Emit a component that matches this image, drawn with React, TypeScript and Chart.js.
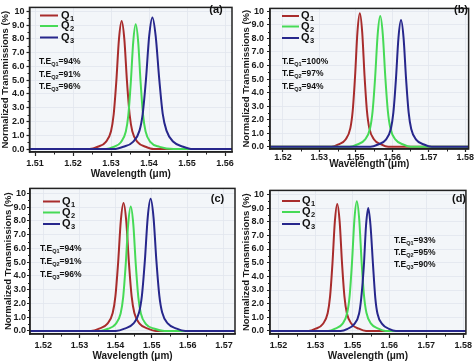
import React, { useEffect, useRef } from "react";
import { Chart, registerables } from "chart.js";
Chart.register(...registerables);

const FONT = "'Liberation Sans', Arial, sans-serif";

const seriesBase = "Q";
const seriesSubs = ["1", "2", "3"];
const seriesColors = ["#a82c2c", "#46da56", "#27278c"];
const xTitle = "Wavelength (μm)";
const yTitle = "Normalized Transmissions (%)";

const yTickValues = [0, 1, 2, 3, 4, 5, 6, 7, 8, 9, 10];
const yTickLabels = ["0.0", "1.0", "2.0", "3.0", "4.0", "5.0", "6.0", "7.0", "8.0", "9.0", "10"];

const xTicksA = [1.51, 1.52, 1.53, 1.54, 1.55, 1.56];
const xLabelsA = ["1.51", "1.52", "1.53", "1.54", "1.55", "1.56"];
const xTicksB = [1.52, 1.53, 1.54, 1.55, 1.56, 1.57];
const xLabelsB = ["1.52", "1.53", "1.55", "1.56", "1.57", "1.58"];
const xTicksC = [1.52, 1.53, 1.54, 1.55, 1.56, 1.57];
const xLabelsC = ["1.52", "1.53", "1.54", "1.55", "1.56", "1.57"];
const xTicksD = [1.52, 1.53, 1.54, 1.55, 1.56, 1.57];
const xLabelsD = ["1.52", "1.53", "1.55", "1.56", "1.57", "1.58"];

// Panel (a)
const aQ1x = [1.5, 1.5244, 1.5265, 1.5286, 1.53, 1.5307, 1.5314, 1.5321, 1.5328, 1.5335, 1.5342, 1.5349, 1.5356, 1.537, 1.5391, 1.5412, 1.6];
const aQ1y = [0, 0, 0.17, 0.51, 1.3, 2.51, 4.93, 8.0, 9.3, 8.0, 4.93, 2.51, 1.3, 0.51, 0.17, 0, 0];
const aQ2x = [1.5, 1.5287, 1.53065, 1.5326, 1.5339, 1.53455, 1.5352, 1.53585, 1.5365, 1.53715, 1.5378, 1.53845, 1.5391, 1.5404, 1.5428, 1.5465, 1.6];
const aQ2y = [0, 0, 0.16, 0.5, 1.27, 2.44, 4.8, 7.78, 9.05, 7.78, 4.8, 2.44, 1.27, 0.5, 0.16, 0, 0];
const aQ3x = [1.5, 1.5307, 1.53325, 1.5358, 1.5375, 1.53835, 1.5392, 1.54005, 1.5409, 1.54175, 1.5427, 1.5436, 1.5446, 1.5464, 1.549, 1.5515, 1.6];
const aQ3y = [0, 0, 0.17, 0.53, 1.34, 2.58, 5.06, 8.21, 9.55, 8.21, 5.06, 2.58, 1.34, 0.53, 0.17, 0, 0];

// Panel (b) (axis positions; labels as printed)
const bQ1x = [1.5, 1.5333, 1.53525, 1.5372, 1.5385, 1.53915, 1.5398, 1.54045, 1.5411, 1.54175, 1.5424, 1.54305, 1.5437, 1.545, 1.54695, 1.5489, 1.6];
const bQ1y = [0, 0, 0.18, 0.54, 1.38, 2.66, 5.22, 8.47, 9.85, 8.47, 5.22, 2.66, 1.38, 0.54, 0.18, 0, 0];
const bQ2x = [1.5, 1.5383, 1.5404, 1.5425, 1.5439, 1.5446, 1.5453, 1.546, 1.5467, 1.5474, 1.5481, 1.5488, 1.5495, 1.5509, 1.553, 1.5551, 1.6];
const bQ2y = [0, 0, 0.17, 0.53, 1.35, 2.61, 5.11, 8.3, 9.65, 8.3, 5.11, 2.61, 1.35, 0.53, 0.17, 0, 0];
const bQ3x = [1.5, 1.544, 1.5461, 1.5482, 1.5496, 1.5503, 1.551, 1.5517, 1.5524, 1.5531, 1.5538, 1.5545, 1.5552, 1.5566, 1.5587, 1.5608, 1.6];
const bQ3y = [0, 0, 0.17, 0.51, 1.31, 2.52, 4.96, 8.04, 9.35, 8.04, 4.96, 2.52, 1.31, 0.51, 0.17, 0, 0];

// Panel (c)
const cQ1x = [1.5, 1.5332, 1.53545, 1.5377, 1.5392, 1.53995, 1.5407, 1.54145, 1.5422, 1.54295, 1.5437, 1.54445, 1.5452, 1.5467, 1.54895, 1.5512, 1.6];
const cQ1y = [0, 0, 0.17, 0.51, 1.3, 2.51, 4.93, 8.0, 9.3, 8.0, 4.93, 2.51, 1.3, 0.51, 0.17, 0, 0];
const cQ2x = [1.5, 1.5358, 1.5379, 1.54, 1.5414, 1.5421, 1.5428, 1.5435, 1.5442, 1.5449, 1.5456, 1.5463, 1.547, 1.5484, 1.5508, 1.5535, 1.6];
const cQ2y = [0, 0, 0.16, 0.5, 1.27, 2.44, 4.8, 7.78, 9.05, 7.78, 4.8, 2.44, 1.27, 0.5, 0.16, 0, 0];
const cQ3x = [1.5, 1.5401, 1.5425, 1.5449, 1.5465, 1.5473, 1.5481, 1.5489, 1.5497, 1.5505, 1.5513, 1.5521, 1.5529, 1.5545, 1.5569, 1.5593, 1.6];
const cQ3y = [0, 0, 0.17, 0.53, 1.34, 2.59, 5.09, 8.26, 9.6, 8.26, 5.09, 2.59, 1.34, 0.53, 0.17, 0, 0];

// Panel (d) (axis positions; labels as printed)
const dQ1x = [1.5, 1.5281, 1.53005, 1.532, 1.5333, 1.53395, 1.5346, 1.53525, 1.5359, 1.53655, 1.5372, 1.53785, 1.5385, 1.5398, 1.54175, 1.5437, 1.6];
const dQ1y = [0, 0, 0.17, 0.51, 1.3, 2.51, 4.93, 8.0, 9.3, 8.0, 4.93, 2.51, 1.3, 0.51, 0.17, 0, 0];
const dQ2x = [1.5, 1.5334, 1.53535, 1.5373, 1.5386, 1.53925, 1.5399, 1.54055, 1.5412, 1.54185, 1.5425, 1.54315, 1.5438, 1.5451, 1.54705, 1.549, 1.6];
const dQ2y = [0, 0, 0.17, 0.52, 1.33, 2.57, 5.04, 8.17, 9.5, 8.17, 5.04, 2.57, 1.33, 0.52, 0.17, 0, 0];
const dQ3x = [1.5, 1.5368, 1.5387, 1.5405, 1.5418, 1.5424, 1.5431, 1.5437, 1.5443, 1.5449, 1.5456, 1.5462, 1.5468, 1.5481, 1.5499, 1.5518, 1.6];
const dQ3y = [0, 0, 0.16, 0.5, 1.26, 2.43, 4.77, 7.74, 9.0, 7.74, 4.77, 2.43, 1.26, 0.5, 0.16, 0, 0];

const teA = ["94%", "91%", "96%"];
const teB = ["100%", "97%", "94%"];
const teC = ["94%", "91%", "96%"];
const teD = ["93%", "95%", "90%"];

const panelTags = ["(a)", "(b)", "(c)", "(d)"];

type Series = { x: number[]; y: number[] };
type PanelCfg = {
  left: number; top: number;
  xMin: number; xMax: number; yMin: number; yMax: number;
  xTicks: number[]; xLabels: string[];
  series: Series[]; te: string[]; tag: string;
  padTop: number; padRight: number; padBottom: number;
  yW: number; xH: number;
  yTitlePad: number; xTitlePad: number;
  xTickLen: number; xTickPad: number; yTickLen: number; yTickPad: number;
  lx1: number; lx2: number; ltx: number; lys: number[];
  teX: number; teYs: number[];
  tagX: number; tagY: number;
};

const panels: PanelCfg[] = [
  {
    left: 0, top: 0, xMin: 1.50855, xMax: 1.56184, yMin: -0.21, yMax: 10.28,
    xTicks: xTicksA, xLabels: xLabelsA,
    series: [{ x: aQ1x, y: aQ1y }, { x: aQ2x, y: aQ2y }, { x: aQ3x, y: aQ3y }],
    te: teA, tag: panelTags[0],
    padTop: 1, padRight: 5, padBottom: 0, yW: 29.5, xH: 30,
    yTitlePad: 0, xTitlePad: 2, xTickLen: 4, xTickPad: 2, yTickLen: 3, yTickPad: 2,
    lx1: 40, lx2: 58, ltx: 61, lys: [15.5, 26, 37.5],
    teX: 39, teYs: [62, 74.5, 87], tagX: 216, tagY: 10,
  },
  {
    left: 237, top: 0, xMin: 1.51646, xMax: 1.57095, yMin: -0.16, yMax: 10.21,
    xTicks: xTicksB, xLabels: xLabelsB,
    series: [{ x: bQ1x, y: bQ1y }, { x: bQ2x, y: bQ2y }, { x: bQ3x, y: bQ3y }],
    te: teB, tag: panelTags[1],
    padTop: 3, padRight: 4, padBottom: 12, yW: 33, xH: 21,
    yTitlePad: 4, xTitlePad: 0, xTickLen: 3, xTickPad: 0, yTickLen: 3, yTickPad: 3,
    lx1: 45, lx2: 62, ltx: 64, lys: [16, 26.5, 38],
    teX: 45, teYs: [62, 74, 87], tagX: 224, tagY: 10,
  },
  {
    left: 0, top: 182, xMin: 1.51632, xMax: 1.57305, yMin: -0.22, yMax: 10.36,
    xTicks: xTicksC, xLabels: xLabelsC,
    series: [{ x: cQ1x, y: cQ1y }, { x: cQ2x, y: cQ2y }, { x: cQ3x, y: cQ3y }],
    te: teC, tag: panelTags[2],
    padTop: 6, padRight: 2, padBottom: 0, yW: 30, xH: 30,
    yTitlePad: 3, xTitlePad: 2, xTickLen: 4, xTickPad: 2, yTickLen: 3, yTickPad: 1,
    lx1: 43, lx2: 60, ltx: 62, lys: [19.5, 30.5, 42],
    teX: 40, teYs: [67, 80, 92.5], tagX: 217.5, tagY: 17,
  },
  {
    left: 237, top: 182, xMin: 1.51769, xMax: 1.57074, yMin: -0.22, yMax: 10.29,
    xTicks: xTicksD, xLabels: xLabelsD,
    series: [{ x: dQ1x, y: dQ1y }, { x: dQ2x, y: dQ2y }, { x: dQ3x, y: dQ3y }],
    te: teD, tag: panelTags[3],
    padTop: 7, padRight: 4, padBottom: 0, yW: 33, xH: 30,
    yTitlePad: 4, xTitlePad: 2, xTickLen: 4, xTickPad: 2, yTickLen: 3, yTickPad: 3,
    lx1: 45, lx2: 63, ltx: 65, lys: [19, 30, 42],
    teX: 157, teYs: [59, 71, 83], tagX: 222, tagY: 17,
  },
];

const W = 237;
const H = 182;

function decor(p: PanelCfg) {
  return {
    id: "decor",
    beforeDraw(chart: any) {
      const { ctx, chartArea: a } = chart;
      ctx.save();
      ctx.fillStyle = "#f3f6f9";
      ctx.fillRect(a.left, a.top, a.right - a.left, a.bottom - a.top);
      ctx.restore();
    },
    afterDraw(chart: any) {
      const { ctx, chartArea: a } = chart;
      const xs = chart.scales.x;
      const ys = chart.scales.y;
      ctx.save();
      ctx.strokeStyle = "#222";
      ctx.lineWidth = 1.5;
      ctx.strokeRect(a.left, a.top, a.right - a.left, a.bottom - a.top);
      ctx.lineWidth = 1;
      const step = p.xTicks[1] - p.xTicks[0];
      const minors: number[] = [p.xTicks[0] - step / 2, ...p.xTicks.map((v) => v + step / 2)];
      minors.forEach((v) => {
        if (v <= p.xMin || v >= p.xMax) return;
        const px = Math.round(xs.getPixelForValue(v)) + 0.5;
        ctx.beginPath();
        ctx.moveTo(px, a.bottom);
        ctx.lineTo(px, a.bottom + 2.5);
        ctx.stroke();
      });
      yTickValues.forEach((v) => {
        const mv = v + 0.5;
        if (mv >= p.yMax) return;
        const py = Math.round(ys.getPixelForValue(mv)) + 0.5;
        ctx.beginPath();
        ctx.moveTo(a.left - 2, py);
        ctx.lineTo(a.left, py);
        ctx.stroke();
      });
      ctx.textBaseline = "middle";
      ctx.textAlign = "left";
      seriesColors.forEach((c, i) => {
        const y = p.lys[i];
        ctx.strokeStyle = c;
        ctx.lineWidth = 2;
        ctx.beginPath();
        ctx.moveTo(p.lx1, y);
        ctx.lineTo(p.lx2, y);
        ctx.stroke();
        ctx.fillStyle = "#111";
        ctx.font = `bold 11px ${FONT}`;
        ctx.fillText(seriesBase, p.ltx, y);
        const w = ctx.measureText(seriesBase).width;
        ctx.font = `bold 7.5px ${FONT}`;
        ctx.fillText(seriesSubs[i], p.ltx + w + 0.5, y + 3);
      });
      p.te.forEach((t, i) => {
        const y = p.teYs[i];
        let x = p.teX;
        ctx.fillStyle = "#111";
        ctx.font = `bold 8.5px ${FONT}`;
        ctx.fillText("T.E", x, y);
        x += ctx.measureText("T.E").width;
        ctx.font = `bold 5.5px ${FONT}`;
        const sub = seriesBase + seriesSubs[i];
        ctx.fillText(sub, x, y + 2.5);
        x += ctx.measureText(sub).width;
        ctx.font = `bold 8.5px ${FONT}`;
        ctx.fillText("=" + t, x, y);
      });
      ctx.textAlign = "center";
      ctx.font = `bold 11px ${FONT}`;
      ctx.fillText(p.tag, p.tagX, p.tagY);
      ctx.restore();
    },
  };
}

function makeChart(canvas: HTMLCanvasElement, p: PanelCfg) {
  const tickFont = { family: FONT, size: 9, weight: "bold" as const };
  return new Chart(canvas, {
    type: "line",
    data: {
      datasets: p.series.map((s, i) => ({
        label: seriesBase + seriesSubs[i],
        data: s.x.map((xv, j) => ({ x: xv, y: s.y[j] })),
        borderColor: seriesColors[i],
        backgroundColor: seriesColors[i],
        borderWidth: 2,
        pointRadius: 0,
        fill: false,
        cubicInterpolationMode: "monotone" as const,
        order: 3 - i,
      })),
    },
    options: {
      responsive: false,
      animation: false,
      devicePixelRatio: 1,
      layout: { padding: { left: 0, top: p.padTop, right: p.padRight, bottom: p.padBottom } },
      plugins: { legend: { display: false }, tooltip: { enabled: false } },
      scales: {
        x: {
          type: "linear",
          min: p.xMin,
          max: p.xMax,
          afterBuildTicks: (ax: any) => {
            ax.ticks = p.xTicks.map((v) => ({ value: v }));
          },
          afterFit: (ax: any) => {
            ax.height = p.xH;
          },
          ticks: {
            autoSkip: false,
            maxRotation: 0,
            callback: (_v: any, i: number) => p.xLabels[i],
            font: tickFont,
            color: "#1a1a1a",
            padding: p.xTickPad,
          },
          grid: { color: "#e1e6ed", lineWidth: 0.8, tickColor: "#222", tickLength: p.xTickLen, tickWidth: 1.2 },
          border: { color: "#222", width: 1.5 },
          title: {
            display: true,
            text: xTitle,
            color: "#1a1a1a",
            font: { family: FONT, size: 10, weight: "bold" },
            padding: { top: 0, bottom: p.xTitlePad },
          },
        },
        y: {
          type: "linear",
          min: p.yMin,
          max: p.yMax,
          afterBuildTicks: (ax: any) => {
            ax.ticks = yTickValues.map((v) => ({ value: v }));
          },
          afterFit: (ax: any) => {
            ax.width = p.yW;
          },
          ticks: {
            autoSkip: false,
            callback: (_v: any, i: number) => yTickLabels[i],
            font: tickFont,
            color: "#1a1a1a",
            padding: p.yTickPad,
          },
          grid: { color: "#e1e6ed", lineWidth: 0.8, tickColor: "#222", tickLength: p.yTickLen, tickWidth: 1.2 },
          border: { color: "#222", width: 1.5 },
          title: {
            display: true,
            text: yTitle,
            color: "#1a1a1a",
            font: { family: FONT, size: 9.5, weight: "bold", lineHeight: 1.15 },
            padding: { top: p.yTitlePad, bottom: 0 },
          },
        },
      },
    },
    plugins: [decor(p)],
  } as any);
}

export default function App() {
  const refs = useRef<(HTMLCanvasElement | null)[]>([]);
  useEffect(() => {
    const charts = panels.map((p, i) => makeChart(refs.current[i] as HTMLCanvasElement, p));
    return () => charts.forEach((c) => c.destroy());
  }, []);
  return (
    <div style={{ position: "fixed", left: 0, top: 0, width: 474, height: 364, background: "#fff" }}>
      {panels.map((p, i) => (
        <canvas
          key={i}
          ref={(el) => {
            refs.current[i] = el;
          }}
          width={W}
          height={H}
          style={{ position: "absolute", left: p.left, top: p.top, width: W, height: H }}
        />
      ))}
    </div>
  );
}
